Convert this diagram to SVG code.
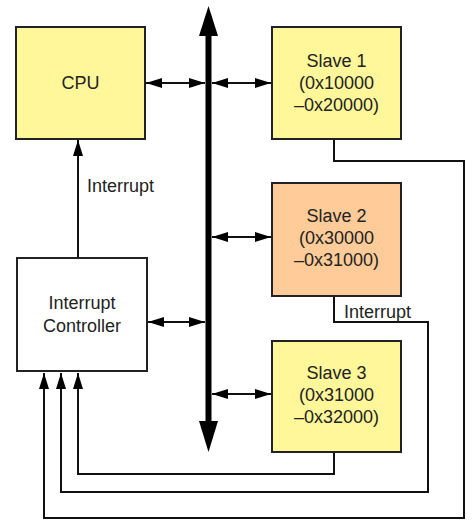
<svg xmlns="http://www.w3.org/2000/svg" width="474" height="530" viewBox="0 0 474 530">
<style>
.box{stroke:#222;stroke-width:2}
.y{fill:#FFF799}
.o{fill:#FFCC99}
.w{fill:#fff}
.t{font-family:"Liberation Sans",Arial,sans-serif;font-size:18px;fill:#222;text-anchor:middle}
.l{font-family:"Liberation Sans",Arial,sans-serif;font-size:18px;fill:#222}
.c{fill:none;stroke:#111;stroke-width:2}
</style>
<defs>
<marker id="ah" markerUnits="userSpaceOnUse" markerWidth="16" markerHeight="10" refX="16" refY="5" orient="auto-start-reverse" viewBox="0 0 16 10">
<path d="M0,0 L16,5 L0,10 z" fill="#000"/>
</marker>
</defs>
<rect width="474" height="530" fill="#fff"/>
<g id="bus">
<rect x="205.5" y="32" width="6" height="392" fill="#000"/>
<path d="M208.5,6 L218,36 L199,36 z" fill="#000"/>
<path d="M208.5,452 L218,421 L199,421 z" fill="#000"/>
</g>
<g id="connectors">
<line class="c" x1="146" y1="83" x2="205" y2="83" marker-start="url(#ah)" marker-end="url(#ah)"/>
<line class="c" x1="212" y1="83" x2="271" y2="83" marker-start="url(#ah)" marker-end="url(#ah)"/>
<line class="c" x1="212" y1="237" x2="271" y2="237" marker-start="url(#ah)" marker-end="url(#ah)"/>
<line class="c" x1="212" y1="394" x2="271" y2="394" marker-start="url(#ah)" marker-end="url(#ah)"/>
<line class="c" x1="148" y1="322" x2="205" y2="322" marker-start="url(#ah)" marker-end="url(#ah)"/>
<line class="c" x1="78" y1="258" x2="78" y2="140" marker-end="url(#ah)"/>
<polyline class="c" points="334,453 334,474 78,474 78,373" marker-end="url(#ah)"/>
<polyline class="c" points="334,297 334,322 428,322 428,492 61,492 61,373" marker-end="url(#ah)"/>
<polyline class="c" points="334,140 334,161 464,161 464,518 44,518 44,373" marker-end="url(#ah)"/>
<text class="l" x="87" y="192">Interrupt</text>
<text class="l" x="344" y="318">Interrupt</text>
</g>
<g id="cpu">
<rect class="box y" x="16" y="27" width="129" height="112"/>
<text class="t" x="80.5" y="89">CPU</text>
</g>
<g id="slave1">
<rect class="box y" x="272" y="27" width="129" height="112"/>
<text class="t" x="336.5" y="67">Slave 1</text>
<text class="t" x="336.5" y="89">(0x10000</text>
<text class="t" x="336.5" y="111">–0x20000)</text>
</g>
<g id="slave2">
<rect class="box o" x="272" y="183" width="129" height="113"/>
<text class="t" x="336.5" y="222">Slave 2</text>
<text class="t" x="336.5" y="244">(0x30000</text>
<text class="t" x="336.5" y="266">–0x31000)</text>
</g>
<g id="slave3">
<rect class="box y" x="272" y="341" width="129" height="111"/>
<text class="t" x="336.5" y="379">Slave 3</text>
<text class="t" x="336.5" y="401">(0x31000</text>
<text class="t" x="336.5" y="423">–0x32000)</text>
</g>
<g id="interrupt-controller">
<rect class="box w" x="17" y="258" width="130" height="113"/>
<text class="t" x="82" y="309">Interrupt</text>
<text class="t" x="82" y="332">Controller</text>
</g>
</svg>
